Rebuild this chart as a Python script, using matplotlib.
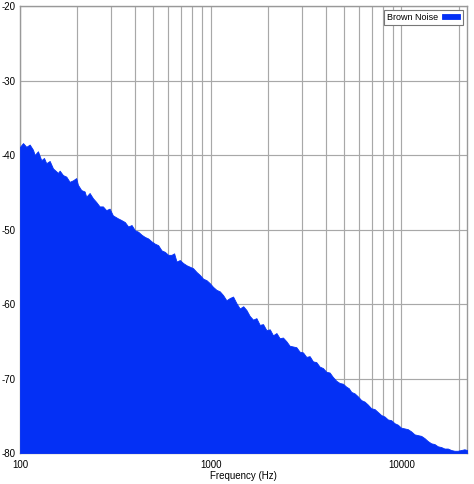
import numpy as np
import matplotlib.pyplot as plt
from matplotlib.ticker import FixedLocator, NullFormatter

# spectrum envelope (Hz, dB)
freqs = [100, 103.7, 107.9, 112.4, 117.0, 119.4, 124.2, 129.3, 133.6, 137.3,
         143.1, 148.9, 158.1, 161.4, 168.0, 174.8, 182.0, 189.5, 197.1, 201.2,
         209.4, 218.2, 222.4, 231.7, 241.1, 250.9, 261.4, 272.0, 283.0, 294.9,
         306.8, 326.0, 338.0, 354.6, 369.0, 384.5, 400.1, 416.4, 433.7, 451.3,
         469.6, 489.3, 509.2, 529.9, 552.0, 574.5, 597.8, 622.8, 642.7, 661.5,
         688.4, 716.4, 746.4, 776.7, 808.2, 842.0, 876.2, 911.8, 949.5, 988.1,
         1028, 1071, 1115, 1160, 1208, 1258, 1309, 1364, 1419, 1480,
         1538, 1600, 1666, 1735, 1806, 1880, 1957, 2040, 2120, 2210,
         2298, 2390, 2491, 2590, 2697, 2810, 2924, 3045, 3170, 3300,
         3433, 3575, 3721, 3875, 4034, 4200, 4368, 4550, 4736, 4930,
         5134, 5290, 5454, 5680, 5905, 6150, 6401, 6660, 6939, 7220,
         7514, 7820, 8147, 8480, 8833, 9190, 9564, 9950, 10368, 10790,
         11238, 11700, 12171, 12680, 13195, 13740, 14305, 14890, 15496, 16130,
         16797, 17490, 18205, 18950, 19715, 20530, 21370, 22050]
levels = [-38.9, -38.4, -38.9, -38.6, -39.3, -40.0, -39.5, -40.7, -40.4, -41.1,
          -40.8, -41.8, -42.4, -42.1, -42.7, -42.9, -43.6, -43.4, -43.1, -44.0,
          -44.7, -44.9, -45.6, -45.1, -45.8, -46.3, -46.9, -46.9, -47.4, -47.2,
          -48.1, -48.5, -48.7, -49.0, -49.6, -49.4, -50.1, -50.3, -50.7, -51.0,
          -51.2, -51.6, -51.9, -52.1, -52.8, -53.0, -53.4, -53.4, -53.2, -54.3,
          -54.1, -54.5, -54.8, -55.0, -55.2, -55.7, -56.1, -56.6, -56.8, -57.2,
          -57.7, -58.1, -58.3, -58.8, -59.5, -59.2, -59.0, -59.9, -60.6, -60.3,
          -60.8, -61.6, -62.1, -61.9, -62.8, -62.7, -63.5, -63.4, -64.2, -63.9,
          -64.6, -64.5, -65.0, -65.6, -65.7, -65.8, -66.4, -66.5, -67.1, -67.0,
          -67.7, -67.8, -68.4, -68.6, -69.1, -69.2, -69.8, -70.3, -70.6, -70.7,
          -71.1, -71.3, -71.8, -72.0, -72.4, -72.9, -73.1, -73.5, -74.0, -74.1,
          -74.5, -74.9, -75.1, -75.5, -75.6, -76.0, -76.2, -76.6, -76.7, -76.8,
          -77.1, -77.5, -77.6, -77.7, -78.0, -78.4, -78.7, -78.8, -79.1, -79.2,
          -79.4, -79.4, -79.6, -79.7, -79.7, -79.6, -79.5, -79.6]

xticks = [100, 1000, 10000]
minor_x = [200, 300, 400, 500, 600, 700, 800, 900,
           2000, 3000, 4000, 5000, 6000, 7000, 8000, 9000, 20000]
yticks = [-80, -70, -60, -50, -40, -30, -20]

plt.rcParams['font.family'] = ['Liberation Sans', 'DejaVu Sans']

fig = plt.figure(figsize=(4.74, 4.84), dpi=100)
ax = fig.add_axes([20 / 474, 31 / 484, 447 / 474, 447 / 484])

ax.fill_between(freqs, -80, levels, color='#0430f5', linewidth=0.6,
                edgecolor='#0430f5', label='Brown Noise', zorder=3)

ax.set_xscale('log')
ax.set_xlim(100, 22050)
ax.set_ylim(-80, -20)
ax.xaxis.set_major_locator(FixedLocator(xticks))
ax.xaxis.set_minor_locator(FixedLocator(minor_x))
ax.xaxis.set_minor_formatter(NullFormatter())
ax.set_xticks(xticks)
ax.set_xticklabels([str(t) for t in xticks])
ax.set_yticks(yticks)
ax.set_yticklabels([str(t) for t in yticks])
ax.tick_params(which='both', length=0, labelsize=7)
ax.tick_params(axis='x', pad=5)
ax.tick_params(axis='y', pad=3)
ax.grid(True, which='both', color='#a8a8a8', linewidth=0.85, zorder=0)
ax.set_axisbelow(True)
for side in ['left', 'top', 'right', 'bottom']:
    ax.spines[side].set_color('#999999')
    ax.spines[side].set_linewidth(1.0)

ax.set_xlabel('Frequency (Hz)', fontsize=7, labelpad=1)

leg = ax.legend(loc='upper right', fontsize=6.5, markerfirst=False,
                handlelength=2.0, handleheight=0.35, fancybox=False,
                framealpha=1, borderpad=0.35, borderaxespad=0.4,
                handletextpad=0.4)
leg.get_frame().set_edgecolor('#777777')
leg.get_frame().set_linewidth(0.8)

fig.savefig('out.png', dpi=100)
